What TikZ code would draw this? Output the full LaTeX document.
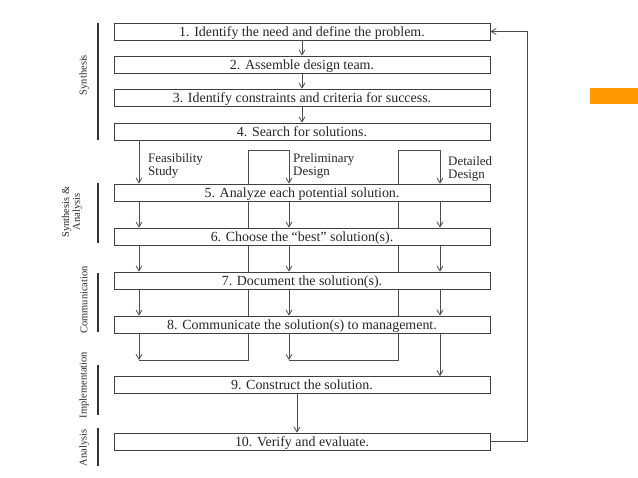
\documentclass[tikz,border=0pt]{standalone}
\usepackage{fontspec}
\setmainfont{Liberation Serif}
\usetikzlibrary{arrows.meta}
\begin{document}
\begin{tikzpicture}[x=1bp,y=-1bp,
  box/.style={draw=black!75,fill=white,line width=0.8bp,minimum width=376bp,minimum height=17bp,inner sep=0pt,font=\fontsize{14}{14}\selectfont,text=black!85,text depth=0.5bp},
  ln/.style={draw=black!70,line width=0.8bp},
  ar/.style={ln,-{Straight Barb[length=5bp,width=6bp]}},
  lbl/.style={font=\fontsize{13}{13}\selectfont,align=left,anchor=west,text=black!85,inner sep=0pt},
  side/.style={font=\fontsize{10.5}{11}\selectfont,rotate=90,text=black!85,inner sep=0pt,align=center},
  bar/.style={draw=black!80,line width=2.2bp}]
\useasboundingbox (0,0) rectangle (638,478);
\fill[orange!80!yellow] (590,88) rectangle (638,104);
% loop lines behind boxes
\coordinate (t1) at (248,150); \coordinate (t2) at (398,150);
\coordinate (b1) at (248,360); \coordinate (b2) at (398,360);
\coordinate (c1) at (139,360); \coordinate (c2) at (289,360);
\draw[ln] (c1) -- (b1) -- (t1) -- (289,150);
\draw[ln] (c2) -- (b2) -- (t2) -- (440,150);
\node[box] (n1) at (302,31.5) {1. Identify the need and define the problem.};
\node[box] (n2) at (302,64.5) {2. Assemble design team.};
\node[box] (n3) at (302,97.5) {3. Identify constraints and criteria for success.};
\node[box] (n4) at (302,131.5) {4. Search for solutions.};
\node[box] (n5) at (302,192.5) {5. Analyze each potential solution.};
\node[box] (n6) at (302,236.5) {6. Choose the ``best'' solution(s).};
\node[box] (n7) at (302,280.5) {7. Document the solution(s).};
\node[box] (n8) at (302,324.5) {8. Communicate the solution(s) to management.};
\node[box] (n9) at (302,385) {9. Construct the solution.};
\node[box] (n10) at (302,441.5) {10. Verify and evaluate.};
\draw[ar] (n1) -- (n2);
\draw[ar] (n2) -- (n3);
\draw[ar] (n3) -- (n4);
\draw[ar] (n9.south -| 297,0) -- (n10.north -| 297,0);
\foreach \x in {139,289,440}{
  \draw[ar] (n5.south -| \x,0) -- (n6.north -| \x,0);
  \draw[ar] (n6.south -| \x,0) -- (n7.north -| \x,0);
  \draw[ar] (n7.south -| \x,0) -- (n8.north -| \x,0);
}
\draw[ar] (n4.south -| 139,0) -- (n5.north -| 139,0);
\draw[ar] (289,150) -- (n5.north -| 289,0);
\draw[ar] (440,150) -- (n5.north -| 440,0);
\draw[ar] (n8.south -| 139,0) -- (c1);
\draw[ar] (n8.south -| 289,0) -- (c2);
\draw[ar] (n8.south -| 440,0) -- (n9.north -| 440,0);
\coordinate (f1) at (527,441.5); \coordinate (f2) at (527,31.5);
\draw[ar] (n10.east) -- (f1) -- (f2) -- (n1.east);
\node[lbl] (l1) at (148,166) {Feasibility\\Study};
\node[lbl] (l2) at (293,166) {Preliminary\\Design};
\node[lbl] (l3) at (448,169) {Detailed\\Design};
% side labels
\draw[bar] (98,23) -- (98,140);
\node[side] (s1) at (84,75) {Synthesis};
\draw[bar] (98,183) -- (98,243);
\node[side] (s2) at (72,212) {Synthesis \&\\Analysis};
\draw[bar] (98,273) -- (98,332);
\node[side] (s3) at (84,300) {Communication};
\draw[bar] (98,365) -- (98,415);
\node[side] (s4) at (84,385) {Implementation};
\draw[bar] (98,428) -- (98,466);
\node[side] (s5) at (84,448) {Analysis};
\end{tikzpicture}
\end{document}
